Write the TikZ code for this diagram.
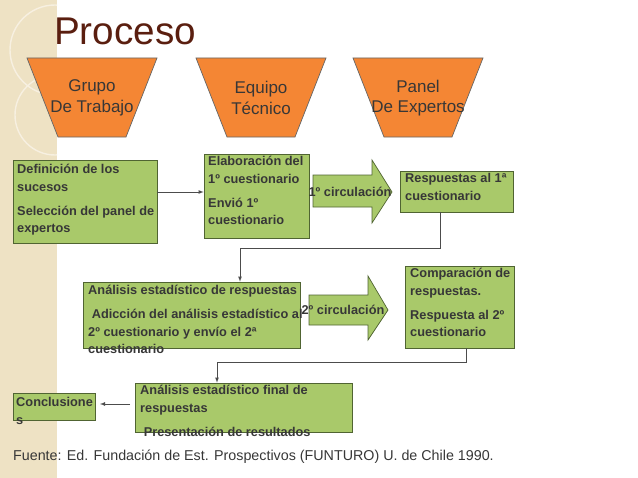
\documentclass[tikz,border=0pt]{standalone}
\usepackage{fontspec}
\setmainfont{Liberation Sans}
\usetikzlibrary{fit, calc}
\definecolor{boxgreen}{RGB}{169,201,106}
\definecolor{boxedge}{RGB}{80,100,50}
\definecolor{funnel}{RGB}{244,134,52}
\definecolor{titlebrown}{RGB}{90,30,15}
\definecolor{beige}{RGB}{238,226,196}
\definecolor{txt}{RGB}{55,55,55}
\tikzset{
    box/.style={draw=boxedge, fill=boxgreen, line width=0.6pt, inner sep=0pt},
    boxtext/.style={anchor=north west, align=left, inner sep=0pt, text=txt,
      font=\fontsize{10.9}{15.2}\selectfont\bfseries},
    funneltext/.style={align=center, text=txt, font=\fontsize{14.5}{17.5}\selectfont},
    flow/.style={draw=black!70, line width=0.5pt, -latex},
    bigarrow/.style={draw=boxedge, fill=boxgreen, line width=0.6pt},
    circtext/.style={text=txt, font=\fontsize{10.9}{13}\selectfont\bfseries},
}
\begin{document}
\begin{tikzpicture}[x=0.03cm, y=-0.03cm]
    \useasboundingbox (0,0) rectangle (638,478);
    \fill[beige] (0,0) rectangle (57,478);
    \begin{scope}
      \clip (0,0) rectangle (57,478);
      \draw[beige!50!white, line width=1.2pt] (55,50) circle (45);
      \draw[beige!50!white, line width=1.2pt] (55,115) circle (40);
    \end{scope}

    \node[anchor=west, text=titlebrown, font=\fontsize{33}{34}\selectfont] (title) at (50,31) {Proceso};

    % funnels
    \foreach \x/\name/\label in {27/grupo/{Grupo\\De Trabajo}, 196/equipo/{Equipo\\Técnico}, 353/panel/{Panel\\De Expertos}} {
      \draw[fill=funnel, draw=black!60, line width=0.6pt]
        (\x,58) -- ++(130,0) -- ++(-31,79) -- ++(-68,0) -- cycle;
      \node[funneltext] (\name) at (\x+65,98) {\label};
    }

    % first row
    \node[box, fit={(13,160) (157,243)}] (def) {};
    \node[boxtext] (deftext) at (17,164) {Definición de los\\sucesos\\[5pt]Selección del panel de\\expertos};
    \node[box, fit={(204,154) (309,238)}] (elab) {};
    \node[boxtext] (elabtext) at (208,156) {Elaboración del\\1º cuestionario\\[5pt]Envió 1º\\cuestionario};
    \draw[flow] (def.east |- 0,192) -- (elab.west |- 0,192);

    \draw[bigarrow] (313,175) -- (372,175) -- (372,160) -- (392,192) -- (372,223) -- (372,207) -- (313,207) -- cycle;
    \node[circtext] (circ1) at (350,192) {1º circulación};

    \node[box, fit={(400,171) (513,212)}] (resp) {};
    \node[boxtext] (resptext) at (405,173) {Respuestas al 1ª\\cuestionario};

    % second row
    \node[box, fit={(83,282) (300,348)}] (anal) {};
    \node[boxtext] (analtext) at (88,285) {Análisis estadístico de respuestas\\[5pt]\ Adicción del análisis estadístico al\\2º cuestionario y envío el 2ª\\cuestionario};
    \draw[flow] (resp.south -| 440,0) |- (240,248) -- (anal.north -| 240,0);

    \draw[bigarrow] (309,295) -- (368,295) -- (368,276) -- (388,310) -- (368,340) -- (368,325) -- (309,325) -- cycle;
    \node[circtext] (circ2) at (343,310) {2º circulación};

    \node[box, fit={(405,266) (514,348)}] (comp) {};
    \node[boxtext] (comptext) at (410,268) {Comparación de\\respuestas.\\[5pt]Respuesta al 2º\\cuestionario};

    % third row
    \node[box, fit={(135,383) (352,432)}] (final) {};
    \node[boxtext] (finaltext) at (140,385) {Análisis estadístico final de\\respuestas\\[5pt]\ Presentación de resultados};
    \draw[flow] (comp.south -| 466,0) |- (217,362) -- (final.north -| 217,0);

    \node[box, fit={(13,393) (95,420)}] (concl) {};
    \node[boxtext] (concltext) at (16,397) {Conclusione\\s};
    \draw[flow] (130,404) -- (100,404);

    \node[anchor=west, text=txt, font=\fontsize{12.2}{14}\selectfont] (fuente) at (9,457) {Fuente: Ed. Fundación de Est. Prospectivos (FUNTURO) U. de Chile 1990.};
\end{tikzpicture}
\end{document}
